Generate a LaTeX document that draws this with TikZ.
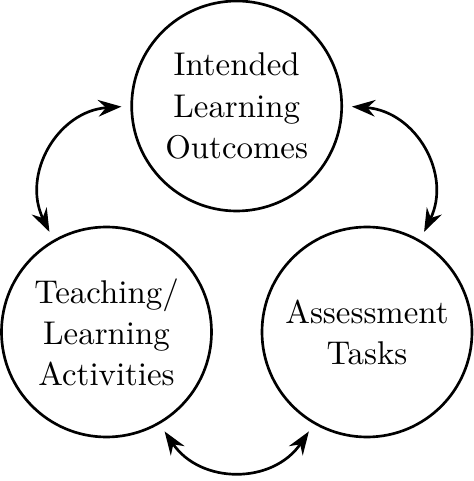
\documentclass[tikz,border=0pt]{standalone}
\usepackage{fontspec}
\setmainfont{lmroman10-regular.otf}
\usetikzlibrary{arrows.meta}
\begin{document}
\begin{tikzpicture}[x=0.45pt,y=0.45pt,
  circ/.style={circle, draw, line width=1.2pt, minimum size=94.5pt, inner sep=0pt, align=center,
    font=\fontsize{14.8}{18.5}\selectfont},
  arr/.style={line width=1.2pt, {Stealth[length=10.5pt,width=7.5pt,inset=3.5pt]}-{Stealth[length=10.5pt,width=7.5pt,inset=3.5pt]},
    shorten <=4pt, shorten >=4pt}]
\useasboundingbox (0,0) rectangle (474,481);
\node[circ] (ilo) at (236.7,375) {Intended\\Learning\\Outcomes};
\node[circ] (tla) at (106.5,149) {Teaching/\\Learning\\Activities};
\node[circ] (at) at (367,149) {Assessment\\Tasks};
\draw[arr] (tla.300) .. controls +(304:73) and +(236:73) .. (at.240);
\draw[arr] (ilo.180) .. controls +(184:73) and +(116:73) .. (tla.120);
\draw[arr] (at.60) .. controls +(64:73) and +(356:73) .. (ilo.0);
\end{tikzpicture}
\end{document}
